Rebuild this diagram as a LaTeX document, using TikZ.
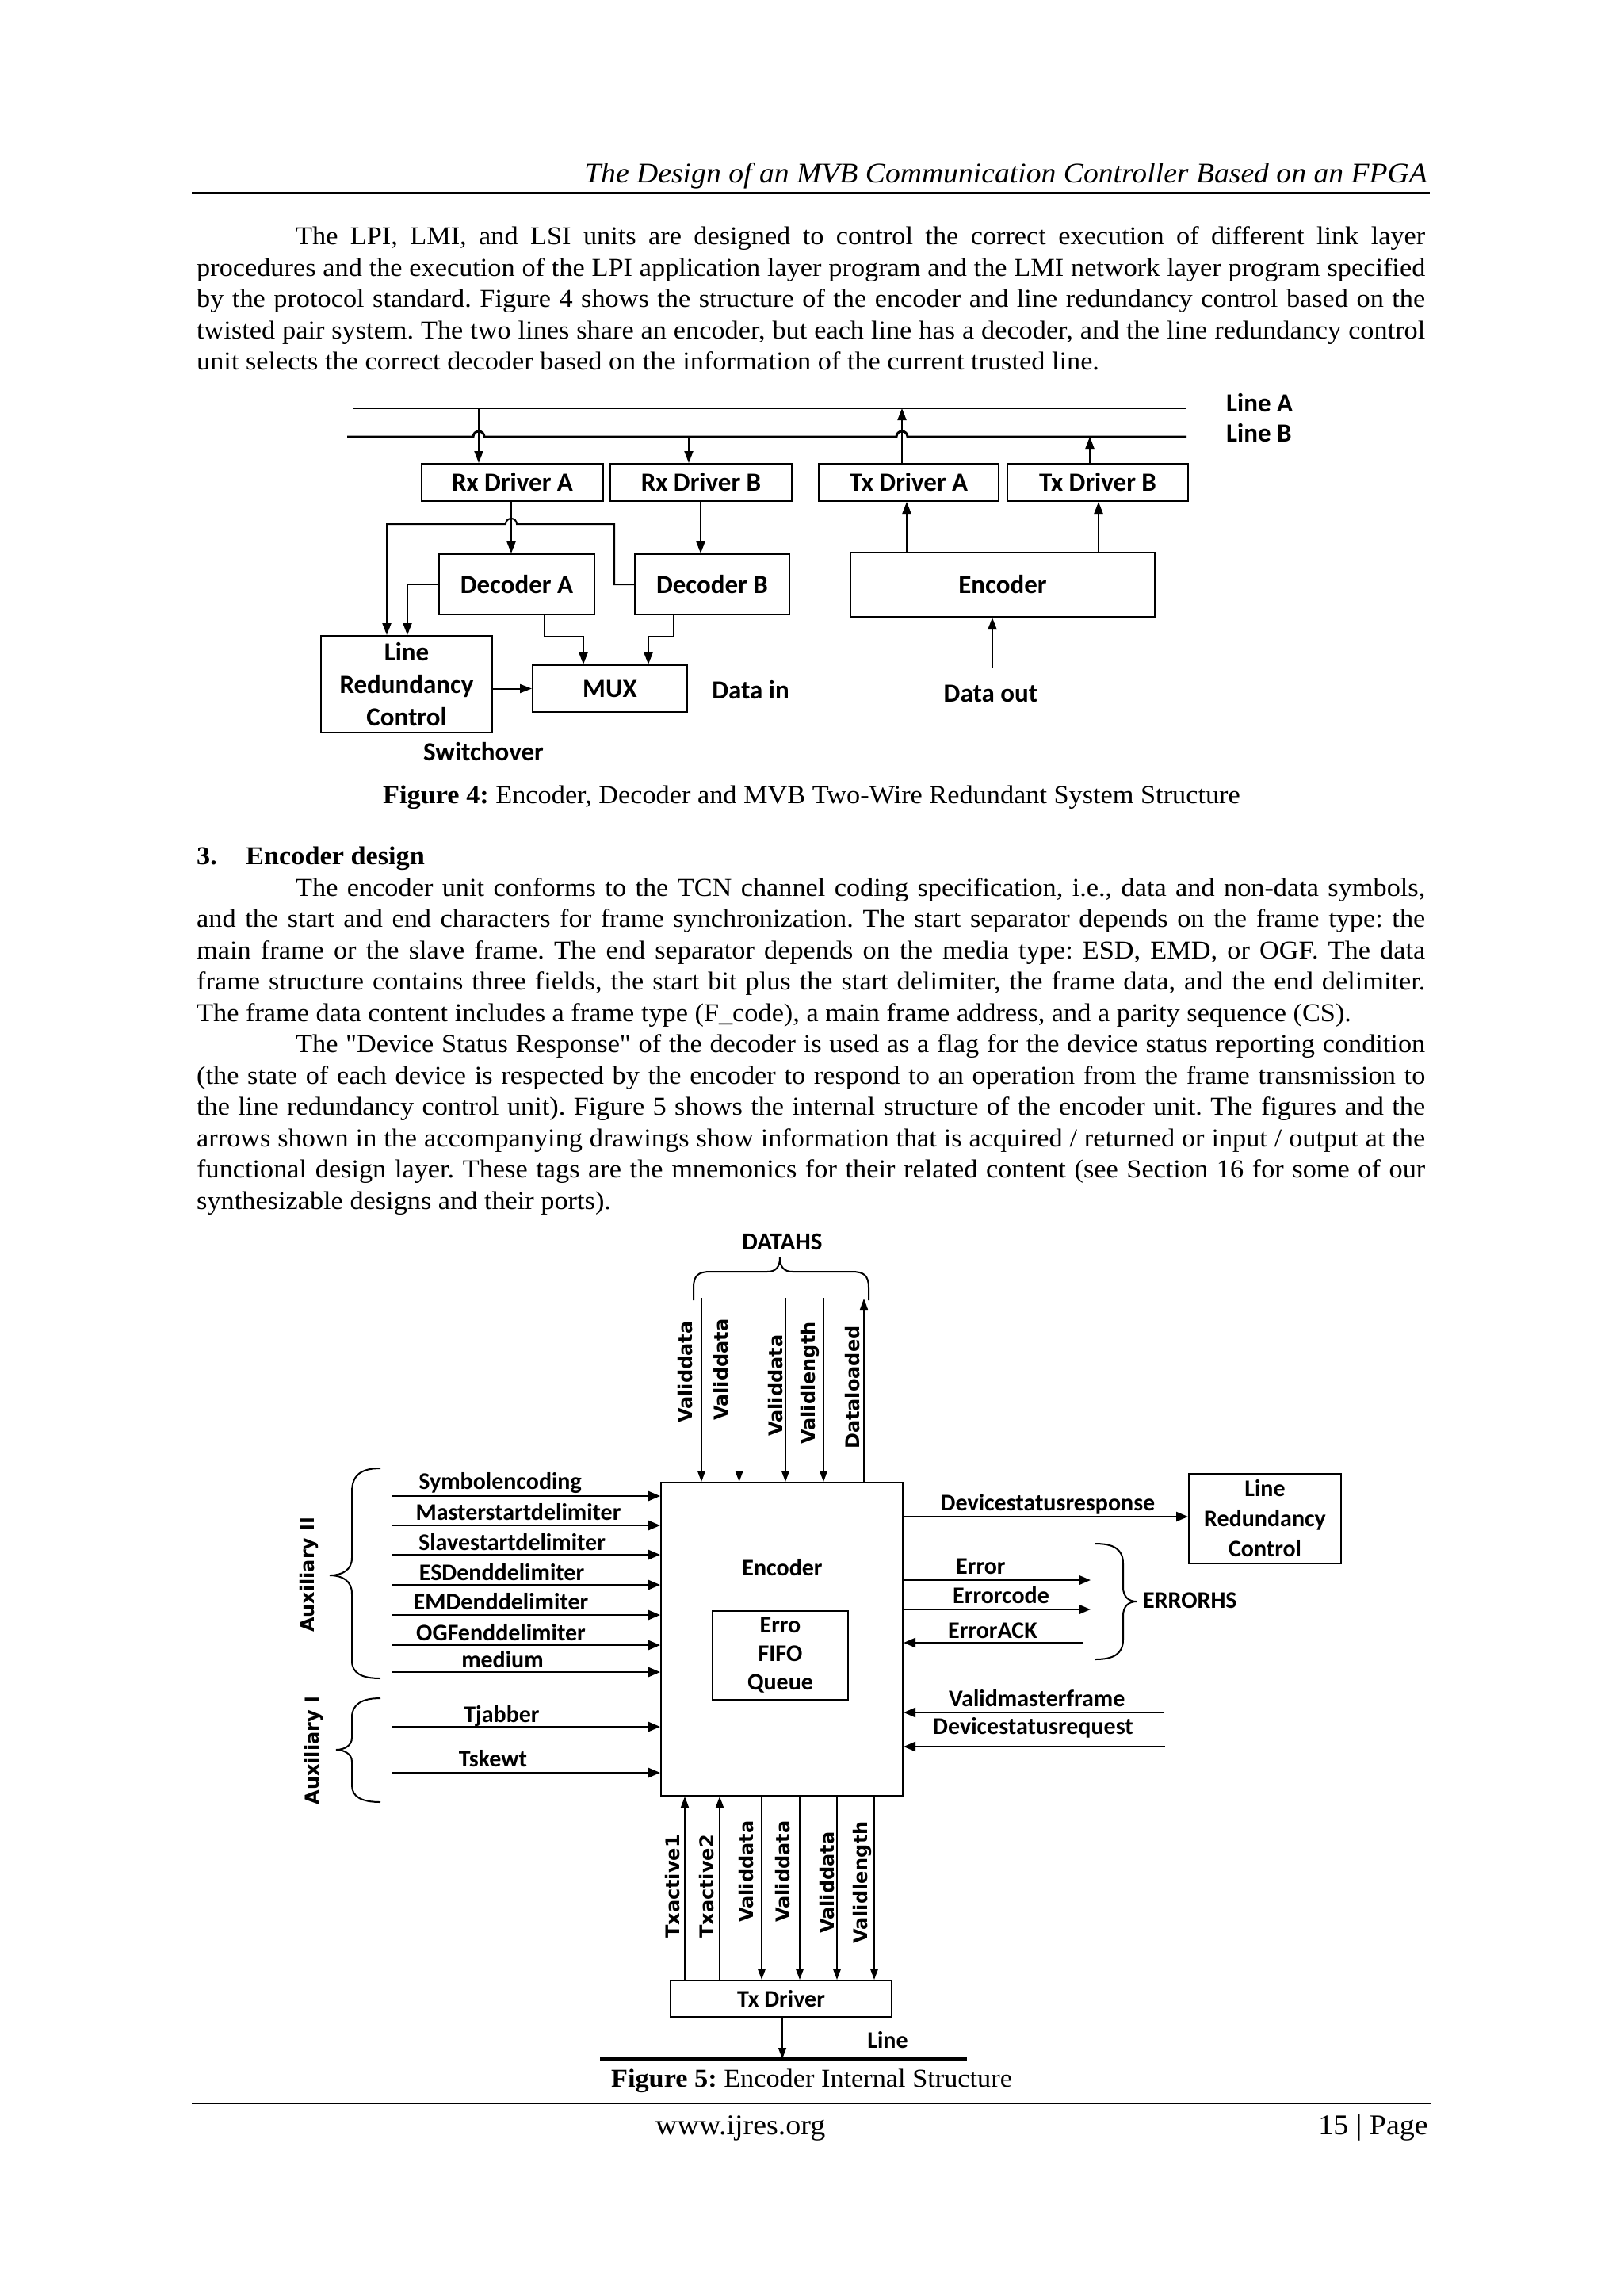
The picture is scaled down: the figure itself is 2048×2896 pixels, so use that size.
\documentclass[tikz,border=0pt]{standalone}
\usepackage{fontspec}
\setmainfont{Liberation Serif}[Ligatures=TeXOff,FakeStretch=1.055]
\newfontfamily\figfont{Carlito}
\newfontfamily\dvs{DejaVu Sans}
\usetikzlibrary{arrows.meta}
\frenchspacing
\newcommand\bodyf{\fontsize{32.5}{40}\selectfont}
\newcommand\fA{\figfont\bfseries\fontsize{33}{41}\selectfont}
\newcommand\fB{\figfont\bfseries\fontsize{30}{37}\selectfont}
\newcommand\fR{\dvs\bfseries\fontsize{24}{26}\selectfont}
\newcommand\jl[4]{\node[txt] (#1) at (#2) {\hbox to #3{#4}};}
\newcommand\nl[3]{\node[txt] (#1) at (#2) {#3};}
\begin{document}
\begin{tikzpicture}[x=1pt,y=-1pt,
  txt/.style={anchor=base west,inner sep=0pt,font=\bodyf},
  box4/.style={draw,line width=2pt,inner sep=0pt,font=\fA,align=center},
  box5/.style={draw,line width=2pt,inner sep=0pt,font=\fB,align=center},
  a4/.style={line width=2pt,-{Triangle[length=15pt,width=11pt]}},
  a5/.style={line width=2.5pt,-{Triangle[length=15pt,width=12pt]}},
  v5/.style={line width=1.6pt,-{Triangle[length=14pt,width=10pt]}},
  lab5/.style={anchor=base,inner sep=0pt,font=\fB},
  labw5/.style={anchor=base west,inner sep=0pt,font=\fB},
  rot/.style={anchor=base west,inner sep=0pt,rotate=90,font=\fR},
  brace/.style={line width=2pt}]
\fill[white] (0,0) rectangle (2048,2896);
\useasboundingbox (0,0) rectangle (2048,2896);

% header
\node[anchor=base east,inner sep=0pt,font=\fontsize{35.7}{40}\selectfont\itshape] (hdr) at (1801,230) {The Design of an MVB Communication Controller Based on an FPGA};
\coordinate (hr1) at (242,243); \coordinate (hr2) at (1804,243);
\draw[line width=3pt] (hr1) -- (hr2);

% paragraph 1
\jl{p1a}{373,308}{1425pt}{The LPI, LMI, and LSI units are designed to control the correct execution of different link layer}
\jl{p1b}{248,348}{1550pt}{procedures and the execution of the LPI application layer program and the LMI network layer program specified}
\jl{p1c}{248,387}{1550pt}{by the protocol standard. Figure 4 shows the structure of the encoder and line redundancy control based on the}
\jl{p1d}{248,427}{1550pt}{twisted pair system. The two lines share an encoder, but each line has a decoder, and the line redundancy control}
\nl{p1e}{248,466}{unit selects the correct decoder based on the information of the current trusted line.}

% ---------- Figure 4 ----------
\coordinate (lAw) at (445,515); \coordinate (lAe) at (1497,515);
\draw[line width=2pt] (lAw) -- (lAe);
\coordinate (lBw) at (438,551); \coordinate (lBe) at (1497,551);
\draw[line width=3pt] (lBw) -- (597,551) arc[start angle=180,end angle=360,radius=7] -- (1131,551) arc[start angle=180,end angle=360,radius=7] -- (lBe);
\node[anchor=west,inner sep=0pt,font=\fA] (lineA) at (1547,508) {Line A};
\node[anchor=west,inner sep=0pt,font=\fA] (lineB) at (1547,546) {Line B};

\node[box4,minimum width=229pt,minimum height=47pt] (rxa) at (646.5,608.5) {Rx Driver A};
\node[box4,minimum width=229pt,minimum height=47pt] (rxb) at (884.5,608.5) {Rx Driver B};
\node[box4,minimum width=227pt,minimum height=47pt] (txa) at (1146.5,608.5) {Tx Driver A};
\node[box4,minimum width=228pt,minimum height=47pt] (txb) at (1385,608.5) {Tx Driver B};
\node[box4,minimum width=196pt,minimum height=76pt] (deca) at (652,737) {Decoder A};
\node[box4,minimum width=195pt,minimum height=76pt] (decb) at (898.5,737) {Decoder B};
\node[box4,minimum width=384pt,minimum height=81pt] (enc) at (1265,737.5) {Encoder};
\node[box4,minimum width=216pt,minimum height=122pt] (lrc) at (513,863) {Line\\Redundancy\\Control};
\node[box4,minimum width=195pt,minimum height=59pt] (mux) at (769.5,868.5) {MUX};
\node[inner sep=0pt,font=\fA] (din) at (947,870) {Data in};
\node[inner sep=0pt,font=\fA] (dout) at (1250,875) {Data out};
\node[inner sep=0pt,font=\fA] (swo) at (610,948) {Switchover};

\coordinate (c1) at (604,515);
\draw[a4] (c1) -- (c1 |- rxa.north);
\coordinate (c2) at (869,551);
\draw[a4] (c2) -- (c2 |- rxb.north);
\coordinate (c3) at (1138,515);
\draw[a4] (c3 |- txa.north) -- (c3);
\coordinate (c4) at (1375,551);
\draw[a4] (c4 |- txb.north) -- (c4);
\coordinate (c5) at (1144,632);
\draw[a4] (c5 |- enc.north) -- (c5 |- txa.south);
\coordinate (c6) at (1386,632);
\draw[a4] (c6 |- enc.north) -- (c6 |- txb.south);
\coordinate (c7) at (1252,843);
\draw[a4] (c7) -- (c7 |- enc.south);
\coordinate (c8) at (645,632);
\draw[a4] (c8 |- rxa.south) -- (c8 |- deca.north);
\coordinate (c9) at (884,632);
\draw[a4] (c9 |- rxb.south) -- (c9 |- decb.north);
\coordinate (h1) at (488,661);
\draw[a4] (decb.west) -- (775,737) -- (775,661) -- (652,661) arc[start angle=0,end angle=-180,radius=7] -- (h1) -- (h1 |- lrc.north);
\coordinate (h2) at (514,737);
\draw[a4] (deca.west) -- (h2) -- (h2 |- lrc.north);
\coordinate (h3) at (736,803);
\draw[a4] (deca.south -| 687,0) -- (687,803) -- (h3) -- (h3 |- mux.north);
\coordinate (h4) at (818,803);
\draw[a4] (decb.south -| 850,0) -- (850,803) -- (h4) -- (h4 |- mux.north);
\draw[a4] (lrc.east |- mux.west) -- (mux.west);

% caption 4
\node[anchor=base,inner sep=0pt,font=\bodyf] (cap4) at (1024,1013) {\textbf{Figure 4:} Encoder, Decoder and MVB Two-Wire Redundant System Structure};

% section heading
\node[txt,font=\bodyf\bfseries] (sec) at (248,1090) {3.};
\node[txt,font=\bodyf\bfseries] (sect) at (310,1090) {Encoder design};

% paragraph 2
\jl{p2a}{373,1130}{1425pt}{The encoder unit conforms to the TCN channel coding specification, i.e., data and non-data symbols,}
\jl{p2b}{248,1169}{1550pt}{and the start and end characters for frame synchronization. The start separator depends on the frame type: the}
\jl{p2c}{248,1209}{1550pt}{main frame or the slave frame. The end separator depends on the media type: ESD, EMD, or OGF. The data}
\jl{p2d}{248,1248}{1550pt}{frame structure contains three fields, the start bit plus the start delimiter, the frame data, and the end delimiter.}
\nl{p2e}{248,1288}{The frame data content includes a frame type (F\_code), a main frame address, and a parity sequence (CS).}

% paragraph 3
\jl{p3a}{373,1327}{1425pt}{The "Device Status Response" of the decoder is used as a flag for the device status reporting condition}
\jl{p3b}{248,1367}{1550pt}{(the state of each device is respected by the encoder to respond to an operation from the frame transmission to}
\jl{p3c}{248,1406}{1550pt}{the line redundancy control unit). Figure 5 shows the internal structure of the encoder unit. The figures and the}
\jl{p3d}{248,1446}{1550pt}{arrows shown in the accompanying drawings show information that is acquired / returned or input / output at the}
\jl{p3e}{248,1485}{1550pt}{functional design layer. These tags are the mnemonics for their related content (see Section 16 for some of our}
\nl{p3f}{248,1525}{synthesizable designs and their ports).}

% ---------- Figure 5 ----------
\node[box5,minimum width=305pt,minimum height=395pt] (enc5) at (986.5,2067.5) {};
\node[inner sep=0pt,font=\fB] (enc5t) at (987,1977) {Encoder};
\node[box5,line width=1.6pt,minimum width=171pt,minimum height=112pt,font=\fB\fontsize{30}{36}\selectfont] (fifo) at (984.5,2088) {Erro\\FIFO\\Queue};
\node[box5,minimum width=192pt,minimum height=113pt,font=\fB\fontsize{30}{38}\selectfont] (lrc5) at (1596,1915.5) {Line\\Redundancy\\Control};
\node[box5,minimum width=279pt,minimum height=46pt] (txd) at (985.5,2521) {Tx Driver};

% top
\node[inner sep=0pt,font=\fB\fontsize{31}{34}\selectfont] (datahs) at (987,1566) {DATAHS};
\draw[brace] (875,1640) -- (875,1624) .. controls (875,1609) and (881,1604) .. (896,1604) -- (968,1604) .. controls (979,1604) and (984,1598) .. (984,1586) .. controls (984,1598) and (989,1604) .. (1000,1604) -- (1075,1604) .. controls (1090,1604) and (1096,1609) .. (1096,1624) -- (1096,1640);
\foreach \xx/\nm in {885/t1,932.6/t2,991/t3,1039/t4}{
  \coordinate (\nm) at (\xx,1637);
  \draw[v5] (\nm) -- (\nm |- enc5.north);
}
\coordinate (t5) at (1090,1638);
\draw[v5] (t5 |- enc5.north) -- (t5);
\node[rot] (r1) at (873,1795) {Validdata};
\node[rot] (r2) at (918,1792) {Validdata};
\node[rot] (r3) at (987,1812) {Validdata};
\node[rot] (r4) at (1028,1822) {Validlength};
\node[rot] (r5) at (1084,1828) {Dataloaded};

% left
\foreach \yy/\nm in {1887/s1,1924/s2,1961/s3,1999/s4,2037/s5,2075/s6,2109/s7,2178/s8,2236/s9}{
  \coordinate (\nm) at (495,\yy);
  \draw[a5] (\nm) -- (\nm -| enc5.west);
}
\node[lab5] (ls1) at (631,1878) {Symbolencoding};
\node[lab5] (ls2) at (654,1917) {Masterstartdelimiter};
\node[lab5] (ls3) at (646,1955) {Slavestartdelimiter};
\node[lab5] (ls4) at (633,1993) {ESDenddelimiter};
\node[lab5] (ls5) at (632,2030) {EMDenddelimiter};
\node[lab5] (ls6) at (632,2069) {OGFenddelimiter};
\node[lab5] (ls7) at (634,2103) {medium};
\node[lab5] (ls8) at (633,2172) {Tjabber};
\node[lab5] (ls9) at (622,2228) {Tskewt};
\draw[brace] (480,1852) .. controls (456,1852) and (444,1860) .. (444,1882) -- (444,1965) .. controls (444,1980) and (432,1987) .. (416,1987) .. controls (432,1987) and (444,1994) .. (444,2010) -- (444,2095) .. controls (444,2110) and (456,2117) .. (480,2117);
\draw[brace] (480,2142) .. controls (456,2142) and (444,2150) .. (444,2166) -- (444,2192) .. controls (444,2202) and (434,2207) .. (424,2207) .. controls (434,2207) and (444,2212) .. (444,2222) -- (444,2252) .. controls (444,2266) and (456,2273) .. (480,2273);
\node[inner sep=0pt,rotate=90,font=\fR] (aux2) at (390,1986) {Auxiliary II};
\node[inner sep=0pt,rotate=90,font=\fR] (aux1) at (396,2208) {Auxiliary I};

% right
\coordinate (e1) at (1139,1913);
\draw[a5] (e1) -- (e1 -| lrc5.west);
\node[lab5] (dsr) at (1322,1905) {Devicestatusresponse};
\coordinate (e2) at (1376,1993);
\draw[a5] (e2 -| enc5.east) -- (e2);
\node[labw5] (err) at (1206,1985) {Error};
\coordinate (e3) at (1376,2030);
\draw[a5] (e3 -| enc5.east) -- (e3);
\node[labw5] (errc) at (1202,2022) {Errorcode};
\coordinate (e4) at (1367,2072);
\draw[a5] (e4) -- (e4 -| enc5.east);
\node[labw5] (erra) at (1196,2066) {ErrorACK};
\draw[brace] (1382,1947) .. controls (1405,1947) and (1417,1954) .. (1417,1972) -- (1417,2002) .. controls (1417,2014) and (1424,2020) .. (1434,2020) .. controls (1424,2020) and (1417,2026) .. (1417,2038) -- (1417,2068) .. controls (1417,2086) and (1405,2093) .. (1382,2093);
\node[anchor=west,inner sep=0pt,font=\fB] (errhs) at (1442,2019) {ERRORHS};
\coordinate (e5) at (1469,2160);
\draw[a5] (e5) -- (e5 -| enc5.east);
\node[labw5] (vmf) at (1197,2152) {Validmasterframe};
\coordinate (e6) at (1470,2203);
\draw[a5] (e6) -- (e6 -| enc5.east);
\node[labw5] (dsq) at (1177,2187) {Devicestatusrequest};

% bottom
\foreach \xx/\nm in {864/b1,908/b2}{
  \coordinate (\nm) at (\xx,2400);
  \draw[v5] (\nm |- txd.north) -- (\nm |- enc5.south);
}
\foreach \xx/\nm in {961/b3,1009/b4,1056/b5,1103/b6}{
  \coordinate (\nm) at (\xx,2400);
  \draw[v5] (\nm |- enc5.south) -- (\nm |- txd.north);
}
\node[rot] (q1) at (857,2445) {Txactive1};
\node[rot] (q2) at (900,2445) {Txactive2};
\node[rot] (q3) at (950,2425) {Validdata};
\node[rot] (q4) at (996,2425) {Validdata};
\node[rot] (q5) at (1052,2439) {Validdata};
\node[rot] (q6) at (1094,2452) {Validlength};
\coordinate (lnw) at (757,2597); \coordinate (lne) at (1220,2597);
\draw[line width=5pt] (lnw) -- (lne);
\coordinate (b7) at (987,2597);
\draw[v5] (b7 |- txd.south) -- (b7);
\node[inner sep=0pt,font=\fB] (lineL) at (1120,2573) {Line};

% caption 5
\node[anchor=base,inner sep=0pt,font=\bodyf] (cap5) at (1024,2632) {\textbf{Figure 5:} Encoder Internal Structure};

% footer
\coordinate (fr1) at (242,2653); \coordinate (fr2) at (1805,2653);
\draw[line width=2.5pt] (fr1) -- (fr2);
\node[anchor=base west,inner sep=0pt,font=\fontsize{36}{40}\selectfont] (web) at (827,2692) {www.ijres.org};
\node[anchor=base east,inner sep=0pt,font=\fontsize{36}{40}\selectfont] (pg) at (1802,2692) {15 | Page};
\end{tikzpicture}
\end{document}
